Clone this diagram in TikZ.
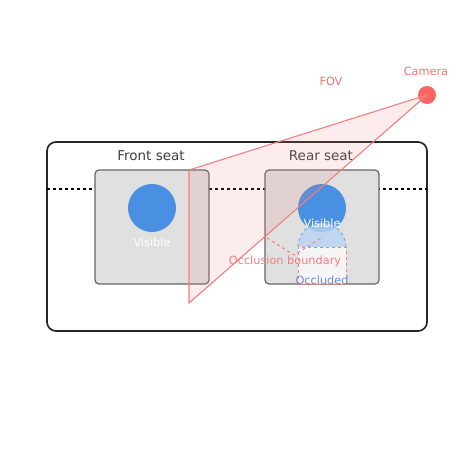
\documentclass[tikz,border=0pt]{standalone}
\usepackage{fontspec}
\setmainfont{DejaVu Sans}
\begin{document}
\begin{tikzpicture}[x=1pt,y=-1pt,
  seatbox/.style={draw=black!60,fill=black!12,rounded corners=4pt,line width=1.2pt},
  head/.style={fill=blue1,draw=none},
  pinkline/.style={draw=pink1,line width=1.1pt},
  seatlabel/.style={text=black!75,font=\fontsize{13.5}{15}\selectfont},
  smalllabel/.style={font=\fontsize{11.3}{13}\selectfont},
]
\definecolor{blue1}{HTML}{4A90E2}
\definecolor{pink1}{HTML}{F08080}
\definecolor{cam}{HTML}{FF6464}
\definecolor{occblue}{HTML}{6B8FD6}
\useasboundingbox (0,0) rectangle (474,474);
\fill[white] (0,0) rectangle (474,474);
% cabin
\node[draw=black!85,line width=1.7pt,rounded corners=9pt,minimum width=380pt,minimum height=189pt,inner sep=0pt] (cabin) at (237,236.5) {};
\coordinate (dl) at (47,189);
\coordinate (dr) at (427,189);
\draw[dashed,line width=1.3pt] (dl) -- (dr);
% seats
\node[seatbox,minimum width=114pt,minimum height=114pt,inner sep=0pt] (front) at (152,227) {};
\node[seatbox,minimum width=114pt,minimum height=114pt,inner sep=0pt] (rear) at (322,227) {};
\node[seatlabel] (frontlbl) at (151,156) {Front seat};
\node[seatlabel] (rearlbl) at (321,156) {Rear seat};
% heads
\node[head,circle,minimum size=48pt,inner sep=0pt] (fhead) at (152,208) {};
\node[head,circle,minimum size=48pt,inner sep=0pt] (rhead) at (322,208) {};
\node[smalllabel,text=white] (fvis) at (152,242) {Visible};
% FOV
\coordinate (ftop) at (189,170);
\coordinate (fbot) at (189,303);
\node[circle,fill=cam,minimum size=18pt,inner sep=0pt] (camera) at (427,95) {};
\fill[pink1,opacity=0.15] (camera.center) -- (ftop) -- (fbot) -- cycle;
\draw[pinkline] (camera.center) -- (ftop) -- (fbot) -- (camera.center);
\node[smalllabel,text=pink1!90!red] (camlbl) at (426,71) {Camera};
\node[smalllabel,text=pink1!90!red] (fovlbl) at (331,81) {FOV};
% occluded part
\fill[blue1!40,opacity=0.8] (298,247) arc[start angle=180,end angle=0,radius=24pt] -- cycle;
\draw[dashed,draw=occblue!80,line width=1pt] (298,247) arc[start angle=180,end angle=0,radius=24pt];
\node[draw=pink1,dashed,line width=1pt,fill=white,fill opacity=0.7,minimum width=48pt,minimum height=37pt,inner sep=0pt] (occ) at (322,265.5) {};
\node[smalllabel,text=white] (rvis) at (322,223) {Visible};
\coordinate (b1) at (267,238);
\coordinate (b2) at (294,255);
\coordinate (b3) at (323,237);
\draw[pinkline,dashed,line width=1pt] (b1) -- (b2) -- (b3);
\node[smalllabel,text=pink1] (occlbl) at (285,261) {Occlusion boundary};
\node[smalllabel,text=occblue] (occtxt) at (322,280) {Occluded};
\end{tikzpicture}
\end{document}
